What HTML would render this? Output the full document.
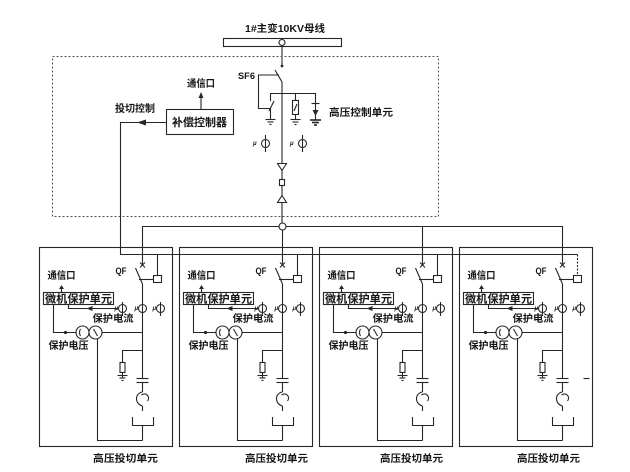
<!DOCTYPE html>
<html><head><meta charset="utf-8"><style>
html,body{margin:0;padding:0;background:#fff;}
svg{display:block;}
text{font-family:"Liberation Sans","Noto Sans CJK SC","WenQuanYi Zen Hei",sans-serif;fill:#151515;font-weight:bold;}
.l{stroke:#262626;stroke-width:1.1;fill:none;}
.w{stroke:#262626;stroke-width:1.1;fill:#fff;}
.f{fill:#262626;stroke:none;}
</style></head><body>
<svg width="630" height="472" viewBox="0 0 630 472" xmlns="http://www.w3.org/2000/svg">
<rect width="630" height="472" fill="#fff"/>

<!-- top title & bus bar -->
<text x="245" y="32" font-size="10" textLength="80" lengthAdjust="spacingAndGlyphs">1#主变10KV母线</text>
<rect x="223.5" y="38.5" width="118" height="8" class="l"/>
<circle cx="282" cy="42.5" r="3" class="w"/>
<line x1="282" y1="45.5" x2="282" y2="66" class="l"/>
<circle cx="282" cy="66" r="1.4" class="f"/>

<!-- dashed control box -->
<rect x="52.5" y="56.5" width="386" height="160" fill="none" stroke="#555" stroke-width="1" stroke-dasharray="2,2"/>

<!-- SF6 switch -->
<text x="238" y="79" font-size="9" textLength="17" lengthAdjust="spacingAndGlyphs">SF6</text>
<line x1="275" y1="70" x2="282" y2="82" class="l"/>
<line x1="282" y1="82" x2="282" y2="222.5" class="l"/>
<polyline points="279,75 258.5,75 258.5,108.5 270,108.5" class="l"/>
<line x1="270" y1="93.5" x2="316" y2="93.5" class="l"/>
<!-- earth switch -->
<line x1="270.5" y1="93.5" x2="270.5" y2="101" class="l"/>
<line x1="274" y1="101" x2="269" y2="111" class="l"/>
<line x1="270.5" y1="108" x2="270.5" y2="119" class="l"/>
<line x1="265.5" y1="119.5" x2="275.5" y2="119.5" class="l"/>
<line x1="267.5" y1="122" x2="273.5" y2="122" class="l"/>
<line x1="269.5" y1="124.5" x2="271.5" y2="124.5" class="l"/>
<!-- resistor -->
<line x1="295.5" y1="93.5" x2="295.5" y2="100" class="l"/>
<rect x="292.5" y="100.5" width="6" height="14" class="w"/>
<line x1="294" y1="111" x2="297" y2="104" class="l"/>
<line x1="295.5" y1="114.5" x2="295.5" y2="119" class="l"/>
<line x1="290.5" y1="119.5" x2="300.5" y2="119.5" class="l"/>
<line x1="292.5" y1="122" x2="298.5" y2="122" class="l"/>
<line x1="294.5" y1="124.5" x2="296.5" y2="124.5" class="l"/>
<!-- arrester -->
<line x1="315.5" y1="93.5" x2="315.5" y2="120" class="l"/>
<line x1="311.5" y1="103.5" x2="319.5" y2="103.5" class="l"/>
<path d="M312.5,110 L318.5,110 L315.5,116 Z" class="f"/>
<line x1="310" y1="120" x2="321" y2="120" stroke="#262626" stroke-width="1.6"/>
<line x1="312" y1="122.5" x2="319" y2="122.5" stroke="#262626" stroke-width="1.6"/>
<line x1="314" y1="125" x2="317" y2="125" stroke="#262626" stroke-width="1.6"/>
<text x="329" y="116" font-size="10" textLength="64" lengthAdjust="spacingAndGlyphs">高压控制单元</text>

<!-- top CTs -->
<line x1="265.5" y1="135" x2="265.5" y2="152" class="l"/>
<circle cx="265.5" cy="143.5" r="4" class="w"/>
<line x1="265.5" y1="139.5" x2="265.5" y2="147.5" class="l"/>
<text x="253" y="145" font-size="6" font-style="italic">μ</text>
<line x1="302.5" y1="135" x2="302.5" y2="152" class="l"/>
<circle cx="302.5" cy="143.5" r="4" class="w"/>
<line x1="302.5" y1="139.5" x2="302.5" y2="147.5" class="l"/>
<text x="290" y="145" font-size="6" font-style="italic">μ</text>

<!-- main line symbols -->
<path d="M277.5,163.5 L286.5,163.5 L282,170.5 Z" class="w"/>
<rect x="279.5" y="179.5" width="5" height="6" class="w"/>
<path d="M277.5,202.5 L286.5,202.5 L282,195.5 Z" class="w"/>

<!-- compensation controller -->
<text x="187" y="87" font-size="10" textLength="28" lengthAdjust="spacingAndGlyphs">通信口</text>
<line x1="201" y1="109" x2="201" y2="97" class="l"/>
<path d="M198.5,98 L203.5,98 L201,92 Z" class="f"/>
<rect x="166.5" y="109.5" width="67" height="25" class="l"/>
<text x="172" y="126" font-size="11" textLength="55" lengthAdjust="spacingAndGlyphs">补偿控制器</text>
<text x="115" y="112" font-size="10" textLength="40" lengthAdjust="spacingAndGlyphs">投切控制</text>
<polyline points="166,122.5 120.5,122.5 120.5,254.5 577.5,254.5" class="l" stroke-width="1.2"/>
<path d="M137,122.5 L146,119.5 L146,125.5 Z" class="f"/>

<!-- 10kV bus to units -->
<polyline points="142.5,264 142.5,226.5 278.5,226.5" class="l"/>
<polyline points="285.5,226.5 562.5,226.5 562.5,264" class="l"/>
<line x1="422.5" y1="226.5" x2="422.5" y2="264" class="l"/>
<circle cx="282.5" cy="226.5" r="3.5" class="w"/>
<line x1="282.5" y1="230" x2="282.5" y2="264" class="l"/>

<!-- unit 1 -->
<g transform="translate(142.5,0)">
<rect x="-103" y="247.5" width="133" height="199" class="l"/>
<line x1="-2.5" y1="262.5" x2="2.5" y2="267.5" class="l"/><line x1="2.5" y1="262.5" x2="-2.5" y2="267.5" class="l"/>
<line x1="-7" y1="268" x2="0" y2="284" class="l"/>
<line x1="0" y1="284" x2="0" y2="378" class="l"/>
<line x1="-3.5" y1="279.5" x2="11" y2="279.5" class="l"/>
<rect x="11" y="275.5" width="8" height="7" class="w"/>
<line x1="15" y1="254.5" x2="15" y2="275.5" class="l"/>
<text x="-27" y="274" font-size="9" textLength="11" lengthAdjust="spacingAndGlyphs">QF</text>
<text x="-95" y="279" font-size="10" textLength="28" lengthAdjust="spacingAndGlyphs">通信口</text>
<line x1="-81" y1="292" x2="-81" y2="288.5" class="l"/><path d="M-83.5,289 L-78.5,289 L-81,285 Z" class="f"/>
<rect x="-99" y="292.5" width="70" height="12" class="l"/>
<text x="-97.5" y="302.5" font-size="11" textLength="67" lengthAdjust="spacingAndGlyphs">微机保护单元</text>
<polyline points="-74,304.5 -74,308.5 -24,308.5" class="l"/>
<path d="M-56,308.5 L-50,306 L-50,311 Z" class="f"/>
<line x1="-20" y1="302" x2="-20" y2="316" class="l"/><circle cx="-20" cy="308.5" r="4" class="w"/><line x1="-20" y1="304.5" x2="-20" y2="312.5" class="l"/>
<circle cx="0" cy="308.5" r="4" class="w"/><line x1="0" y1="304.5" x2="0" y2="312.5" class="l"/>
<line x1="18" y1="302" x2="18" y2="316" class="l"/><circle cx="18" cy="308.5" r="4" class="w"/><line x1="18" y1="304.5" x2="18" y2="312.5" class="l"/>
<text x="-28" y="310" font-size="6" font-style="italic">μ</text><text x="-8" y="310" font-size="6" font-style="italic">μ</text><text x="10" y="310" font-size="6" font-style="italic">μ</text>
<text x="-50" y="322" font-size="10" textLength="41" lengthAdjust="spacingAndGlyphs">保护电流</text>
<polyline points="-89,304.5 -89,332.5 0,332.5" class="l" stroke-width="1.6"/>
<circle cx="-77" cy="332.5" r="1.6" class="f"/>
<circle cx="-60" cy="332.5" r="6.5" class="w"/><circle cx="-47" cy="332.5" r="6.5" class="w"/>
<path d="M-62,329 Q-64,332.5 -62,336 M-49,329 L-45,336" class="l"/>
<polyline points="-45,339 -45,440.5 0,440.5" class="l"/>
<text x="-94" y="349" font-size="10" textLength="40" lengthAdjust="spacingAndGlyphs">保护电压</text>
<polyline points="0,350.5 -20,350.5 -20,362" class="l"/>
<rect x="-22.5" y="362.5" width="5" height="10" class="w"/>
<line x1="-20" y1="372.5" x2="-20" y2="378" class="l"/>
<line x1="-25" y1="375.5" x2="-15" y2="375.5" class="l"/><line x1="-23" y1="378" x2="-17" y2="378" class="l"/><line x1="-21" y1="380.5" x2="-19" y2="380.5" class="l"/>
<line x1="-6" y1="378.5" x2="6" y2="378.5" class="l"/><line x1="-6" y1="382.5" x2="6" y2="382.5" class="l"/>
<line x1="0" y1="382.5" x2="0" y2="392" class="l"/>
<path d="M0,392 C-8,393 -8,404 0,406 M-1,395 C4,392 8,397 5,401" class="l"/>
<line x1="0" y1="406" x2="0" y2="411" class="l"/>
<polyline points="-10,417 -10,425.5 11,425.5 11,417" class="l"/>
<line x1="0" y1="425.5" x2="0" y2="440.5" class="l"/>
</g>

<!-- unit 2 -->
<g transform="translate(282.5,0)">
<rect x="-103" y="247.5" width="133" height="199" class="l"/>
<line x1="-2.5" y1="262.5" x2="2.5" y2="267.5" class="l"/><line x1="2.5" y1="262.5" x2="-2.5" y2="267.5" class="l"/>
<line x1="-7" y1="268" x2="0" y2="284" class="l"/>
<line x1="0" y1="284" x2="0" y2="378" class="l"/>
<line x1="-3.5" y1="279.5" x2="11" y2="279.5" class="l"/>
<rect x="11" y="275.5" width="8" height="7" class="w"/>
<line x1="15" y1="254.5" x2="15" y2="275.5" class="l"/>
<text x="-27" y="274" font-size="9" textLength="11" lengthAdjust="spacingAndGlyphs">QF</text>
<text x="-95" y="279" font-size="10" textLength="28" lengthAdjust="spacingAndGlyphs">通信口</text>
<line x1="-81" y1="292" x2="-81" y2="288.5" class="l"/><path d="M-83.5,289 L-78.5,289 L-81,285 Z" class="f"/>
<rect x="-99" y="292.5" width="70" height="12" class="l"/>
<text x="-97.5" y="302.5" font-size="11" textLength="67" lengthAdjust="spacingAndGlyphs">微机保护单元</text>
<polyline points="-74,304.5 -74,308.5 -24,308.5" class="l"/>
<path d="M-56,308.5 L-50,306 L-50,311 Z" class="f"/>
<line x1="-20" y1="302" x2="-20" y2="316" class="l"/><circle cx="-20" cy="308.5" r="4" class="w"/><line x1="-20" y1="304.5" x2="-20" y2="312.5" class="l"/>
<circle cx="0" cy="308.5" r="4" class="w"/><line x1="0" y1="304.5" x2="0" y2="312.5" class="l"/>
<line x1="18" y1="302" x2="18" y2="316" class="l"/><circle cx="18" cy="308.5" r="4" class="w"/><line x1="18" y1="304.5" x2="18" y2="312.5" class="l"/>
<text x="-28" y="310" font-size="6" font-style="italic">μ</text><text x="-8" y="310" font-size="6" font-style="italic">μ</text><text x="10" y="310" font-size="6" font-style="italic">μ</text>
<text x="-50" y="322" font-size="10" textLength="41" lengthAdjust="spacingAndGlyphs">保护电流</text>
<polyline points="-89,304.5 -89,332.5 0,332.5" class="l" stroke-width="1.6"/>
<circle cx="-77" cy="332.5" r="1.6" class="f"/>
<circle cx="-60" cy="332.5" r="6.5" class="w"/><circle cx="-47" cy="332.5" r="6.5" class="w"/>
<path d="M-62,329 Q-64,332.5 -62,336 M-49,329 L-45,336" class="l"/>
<polyline points="-45,339 -45,440.5 0,440.5" class="l"/>
<text x="-94" y="349" font-size="10" textLength="40" lengthAdjust="spacingAndGlyphs">保护电压</text>
<polyline points="0,350.5 -20,350.5 -20,362" class="l"/>
<rect x="-22.5" y="362.5" width="5" height="10" class="w"/>
<line x1="-20" y1="372.5" x2="-20" y2="378" class="l"/>
<line x1="-25" y1="375.5" x2="-15" y2="375.5" class="l"/><line x1="-23" y1="378" x2="-17" y2="378" class="l"/><line x1="-21" y1="380.5" x2="-19" y2="380.5" class="l"/>
<line x1="-6" y1="378.5" x2="6" y2="378.5" class="l"/><line x1="-6" y1="382.5" x2="6" y2="382.5" class="l"/>
<line x1="0" y1="382.5" x2="0" y2="392" class="l"/>
<path d="M0,392 C-8,393 -8,404 0,406 M-1,395 C4,392 8,397 5,401" class="l"/>
<line x1="0" y1="406" x2="0" y2="411" class="l"/>
<polyline points="-10,417 -10,425.5 11,425.5 11,417" class="l"/>
<line x1="0" y1="425.5" x2="0" y2="440.5" class="l"/>
</g>

<!-- unit 3 -->
<g transform="translate(422.5,0)">
<rect x="-103" y="247.5" width="133" height="199" class="l"/>
<line x1="-2.5" y1="262.5" x2="2.5" y2="267.5" class="l"/><line x1="2.5" y1="262.5" x2="-2.5" y2="267.5" class="l"/>
<line x1="-7" y1="268" x2="0" y2="284" class="l"/>
<line x1="0" y1="284" x2="0" y2="378" class="l"/>
<line x1="-3.5" y1="279.5" x2="11" y2="279.5" class="l"/>
<rect x="11" y="275.5" width="8" height="7" class="w"/>
<line x1="15" y1="254.5" x2="15" y2="275.5" class="l"/>
<text x="-27" y="274" font-size="9" textLength="11" lengthAdjust="spacingAndGlyphs">QF</text>
<text x="-95" y="279" font-size="10" textLength="28" lengthAdjust="spacingAndGlyphs">通信口</text>
<line x1="-81" y1="292" x2="-81" y2="288.5" class="l"/><path d="M-83.5,289 L-78.5,289 L-81,285 Z" class="f"/>
<rect x="-99" y="292.5" width="70" height="12" class="l"/>
<text x="-97.5" y="302.5" font-size="11" textLength="67" lengthAdjust="spacingAndGlyphs">微机保护单元</text>
<polyline points="-74,304.5 -74,308.5 -24,308.5" class="l"/>
<path d="M-56,308.5 L-50,306 L-50,311 Z" class="f"/>
<line x1="-20" y1="302" x2="-20" y2="316" class="l"/><circle cx="-20" cy="308.5" r="4" class="w"/><line x1="-20" y1="304.5" x2="-20" y2="312.5" class="l"/>
<circle cx="0" cy="308.5" r="4" class="w"/><line x1="0" y1="304.5" x2="0" y2="312.5" class="l"/>
<line x1="18" y1="302" x2="18" y2="316" class="l"/><circle cx="18" cy="308.5" r="4" class="w"/><line x1="18" y1="304.5" x2="18" y2="312.5" class="l"/>
<text x="-28" y="310" font-size="6" font-style="italic">μ</text><text x="-8" y="310" font-size="6" font-style="italic">μ</text><text x="10" y="310" font-size="6" font-style="italic">μ</text>
<text x="-50" y="322" font-size="10" textLength="41" lengthAdjust="spacingAndGlyphs">保护电流</text>
<polyline points="-89,304.5 -89,332.5 0,332.5" class="l" stroke-width="1.6"/>
<circle cx="-77" cy="332.5" r="1.6" class="f"/>
<circle cx="-60" cy="332.5" r="6.5" class="w"/><circle cx="-47" cy="332.5" r="6.5" class="w"/>
<path d="M-62,329 Q-64,332.5 -62,336 M-49,329 L-45,336" class="l"/>
<polyline points="-45,339 -45,440.5 0,440.5" class="l"/>
<text x="-94" y="349" font-size="10" textLength="40" lengthAdjust="spacingAndGlyphs">保护电压</text>
<polyline points="0,350.5 -20,350.5 -20,362" class="l"/>
<rect x="-22.5" y="362.5" width="5" height="10" class="w"/>
<line x1="-20" y1="372.5" x2="-20" y2="378" class="l"/>
<line x1="-25" y1="375.5" x2="-15" y2="375.5" class="l"/><line x1="-23" y1="378" x2="-17" y2="378" class="l"/><line x1="-21" y1="380.5" x2="-19" y2="380.5" class="l"/>
<line x1="-6" y1="378.5" x2="6" y2="378.5" class="l"/><line x1="-6" y1="382.5" x2="6" y2="382.5" class="l"/>
<line x1="0" y1="382.5" x2="0" y2="392" class="l"/>
<path d="M0,392 C-8,393 -8,404 0,406 M-1,395 C4,392 8,397 5,401" class="l"/>
<line x1="0" y1="406" x2="0" y2="411" class="l"/>
<polyline points="-10,417 -10,425.5 11,425.5 11,417" class="l"/>
<line x1="0" y1="425.5" x2="0" y2="440.5" class="l"/>
</g>

<!-- unit 4 -->
<g transform="translate(562.5,0)">
<rect x="-103" y="247.5" width="133" height="199" class="l"/>
<line x1="-2.5" y1="262.5" x2="2.5" y2="267.5" class="l"/><line x1="2.5" y1="262.5" x2="-2.5" y2="267.5" class="l"/>
<line x1="-7" y1="268" x2="0" y2="284" class="l"/>
<line x1="0" y1="284" x2="0" y2="378" class="l"/>
<line x1="-3.5" y1="279.5" x2="11" y2="279.5" class="l"/>
<rect x="11" y="275.5" width="8" height="7" class="w"/>
<line x1="15" y1="254.5" x2="15" y2="275.5" class="l" stroke-dasharray="2,1.5"/>
<text x="-27" y="274" font-size="9" textLength="11" lengthAdjust="spacingAndGlyphs">QF</text>
<text x="-95" y="279" font-size="10" textLength="28" lengthAdjust="spacingAndGlyphs">通信口</text>
<line x1="-81" y1="292" x2="-81" y2="288.5" class="l"/><path d="M-83.5,289 L-78.5,289 L-81,285 Z" class="f"/>
<rect x="-99" y="292.5" width="70" height="12" class="l"/>
<text x="-97.5" y="302.5" font-size="11" textLength="67" lengthAdjust="spacingAndGlyphs">微机保护单元</text>
<polyline points="-74,304.5 -74,308.5 -24,308.5" class="l"/>
<path d="M-56,308.5 L-50,306 L-50,311 Z" class="f"/>
<line x1="-20" y1="302" x2="-20" y2="316" class="l"/><circle cx="-20" cy="308.5" r="4" class="w"/><line x1="-20" y1="304.5" x2="-20" y2="312.5" class="l"/>
<circle cx="0" cy="308.5" r="4" class="w"/><line x1="0" y1="304.5" x2="0" y2="312.5" class="l"/>
<line x1="18" y1="302" x2="18" y2="316" class="l"/><circle cx="18" cy="308.5" r="4" class="w"/><line x1="18" y1="304.5" x2="18" y2="312.5" class="l"/>
<text x="-28" y="310" font-size="6" font-style="italic">μ</text><text x="-8" y="310" font-size="6" font-style="italic">μ</text><text x="10" y="310" font-size="6" font-style="italic">μ</text>
<text x="-50" y="322" font-size="10" textLength="41" lengthAdjust="spacingAndGlyphs">保护电流</text>
<polyline points="-89,304.5 -89,332.5 0,332.5" class="l" stroke-width="1.6"/>
<circle cx="-77" cy="332.5" r="1.6" class="f"/>
<circle cx="-60" cy="332.5" r="6.5" class="w"/><circle cx="-47" cy="332.5" r="6.5" class="w"/>
<path d="M-62,329 Q-64,332.5 -62,336 M-49,329 L-45,336" class="l"/>
<polyline points="-45,339 -45,440.5 0,440.5" class="l"/>
<text x="-94" y="349" font-size="10" textLength="40" lengthAdjust="spacingAndGlyphs">保护电压</text>
<polyline points="0,350.5 -20,350.5 -20,362" class="l"/>
<rect x="-22.5" y="362.5" width="5" height="10" class="w"/>
<line x1="-20" y1="372.5" x2="-20" y2="378" class="l"/>
<line x1="-25" y1="375.5" x2="-15" y2="375.5" class="l"/><line x1="-23" y1="378" x2="-17" y2="378" class="l"/><line x1="-21" y1="380.5" x2="-19" y2="380.5" class="l"/>
<line x1="-6" y1="378.5" x2="6" y2="378.5" class="l"/><line x1="-6" y1="382.5" x2="6" y2="382.5" class="l"/>
<line x1="0" y1="382.5" x2="0" y2="392" class="l"/>
<path d="M0,392 C-8,393 -8,404 0,406 M-1,395 C4,392 8,397 5,401" class="l"/>
<line x1="0" y1="406" x2="0" y2="411" class="l"/>
<polyline points="-10,417 -10,425.5 11,425.5 11,417" class="l"/>
<line x1="0" y1="425.5" x2="0" y2="440.5" class="l"/>
<line x1="21" y1="378.5" x2="27" y2="378.5" class="l"/>
</g>

<!-- unit labels -->
<text x="93" y="462" font-size="10" textLength="65" lengthAdjust="spacingAndGlyphs">高压投切单元</text>
<text x="245" y="462" font-size="10" textLength="63" lengthAdjust="spacingAndGlyphs">高压投切单元</text>
<text x="380" y="462" font-size="10" textLength="63" lengthAdjust="spacingAndGlyphs">高压投切单元</text>
<text x="517" y="462" font-size="10" textLength="63" lengthAdjust="spacingAndGlyphs">高压投切单元</text>
</svg>
</body></html>
